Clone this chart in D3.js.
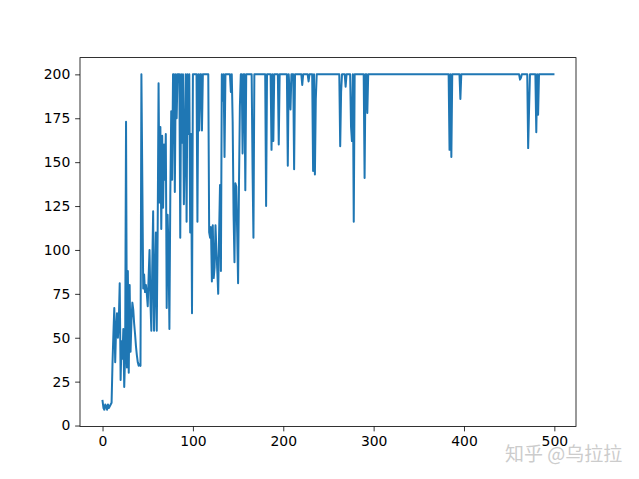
<!DOCTYPE html>
<html><head><meta charset="utf-8">
<script src="https://cdn.jsdelivr.net/npm/d3@7"></script>
<style>
html,body{margin:0;padding:0;background:#fff;}
svg{display:block;}
.tick text{font-family:"DejaVu Sans",sans-serif;font-size:13.9px;fill:#000;}
</style></head>
<body>
<svg id="chart" width="639" height="479"></svg>
<script>
// Reward per episode
const rewards = [
14,10,9,12,11,9,12,10,11,12,
13,35,52,67,36,55,64,50,60,81,
26,48,38,55,22,40,173,33,88,30,
80,42,60,70,66,58,52,45,40,36,
34,35,34,200,140,78,86,76,80,75,
68,85,100,70,54,90,122,54,80,110,
54,111,195,127,170,112,165,124,160,140,
166,67,120,100,55,132,179,140,200,200,
133,200,175,200,200,200,107,200,161,200,
126,160,200,116,200,166,200,110,166,64,
200,200,200,200,200,116,200,168,200,200,
168,200,200,200,200,200,200,200,110,107,
113,82,114,84,90,114,100,88,75,110,
137,88,200,185,200,153,200,200,200,200,
200,200,190,200,173,120,93,138,136,110,
81,138,182,200,200,155,200,200,134,200,
200,200,200,200,200,200,146,107,200,200,
200,200,200,200,200,200,200,200,200,200,
200,125,200,200,200,200,200,157,200,162,
200,200,200,200,200,160,200,200,200,200,
200,200,200,200,200,148,200,190,180,200,
200,200,146,200,200,200,200,200,200,200,
200,194,200,200,200,200,200,200,196,200,
200,200,200,145,200,143,186,200,200,200,
200,200,200,200,200,200,200,200,200,200,
200,200,200,200,200,200,200,200,200,200,
200,200,200,159,190,200,200,200,200,193,
200,200,200,200,200,170,162,200,116,200,
200,200,200,200,200,200,200,200,200,200,
141,200,200,178,200,200,200,200,200,200,
200,200,200,200,200,200,200,200,200,200,
200,200,200,200,200,200,200,200,200,200,
200,200,200,200,200,200,200,200,200,200,
200,200,200,200,200,200,200,200,200,200,
200,200,200,200,200,200,200,200,200,200,
200,200,200,200,200,200,200,200,200,200,
200,200,200,200,200,200,200,200,200,200,
200,200,200,200,200,200,200,200,200,200,
200,200,200,200,157,200,153,200,200,200,
200,200,200,200,200,200,186,200,200,200,
200,200,200,200,200,200,200,200,200,200,
200,200,200,200,200,200,200,200,200,200,
200,200,200,200,200,200,200,200,200,200,
200,200,200,200,200,200,200,200,200,200,
200,200,200,200,200,200,200,200,200,200,
200,200,200,200,200,200,200,200,200,200,
200,200,197,198,200,200,200,200,200,200,
200,158,180,200,200,200,200,200,200,200,
167,200,177,200,200,200,200,200,200,200,
200,200,200,200,200,200,200,200,200,200
];
const xTicks = [0,100,200,300,400,500];
const yTicks = [0,25,50,75,100,125,150,175,200];
const watermark = "知乎 @乌拉拉";

const svg = d3.select("#chart");
const L = 80, R = 576, T = 57.6, B = 426.5;

const n = rewards.length;
const xPad = (n - 1) * 0.05;
const yMin = d3.min(rewards), yMax = d3.max(rewards);
const yPad = (yMax - yMin) * 0.05;

const x = d3.scaleLinear().domain([0 - xPad, (n - 1) + xPad]).range([L, R]);
const y = d3.scaleLinear().domain([yMin - yPad, yMax + yPad]).range([B, T]);

// watermark first so the tick labels sit on top of it
svg.append("text")
  .attr("x", 505).attr("y", 461)
  .attr("font-family", "Noto Sans CJK SC, sans-serif")
  .attr("font-size", 19)
  .attr("fill", "#cccccc")
  .text(watermark);

svg.append("path")
  .datum(rewards)
  .attr("fill", "none")
  .attr("stroke", "#1f77b4")
  .attr("stroke-width", 2)
  .attr("stroke-linejoin", "round")
  .attr("stroke-linecap", "square")
  .attr("d", d3.line().x((d, i) => x(i)).y(d => y(d)));

const xAxis = svg.append("g")
  .attr("transform", `translate(0,${B})`)
  .call(d3.axisBottom(x).tickValues(xTicks).tickSize(4.86).tickPadding(4.86).tickFormat(d3.format("d")));
const yAxis = svg.append("g")
  .attr("transform", `translate(${L},0)`)
  .call(d3.axisLeft(y).tickValues(yTicks).tickSize(4.86).tickPadding(4.86).tickFormat(d3.format("d")));
[xAxis, yAxis].forEach(g => {
  g.select(".domain").remove();
  g.selectAll(".tick line").attr("stroke", "#000").attr("stroke-width", 0.8);
  g.selectAll(".tick text").attr("font-family", null).attr("font-size", null);
});

svg.append("rect")
  .attr("x", L).attr("y", T).attr("width", R - L).attr("height", B - T)
  .attr("fill", "none").attr("stroke", "#000").attr("stroke-width", 0.8);
</script>
</body></html>
